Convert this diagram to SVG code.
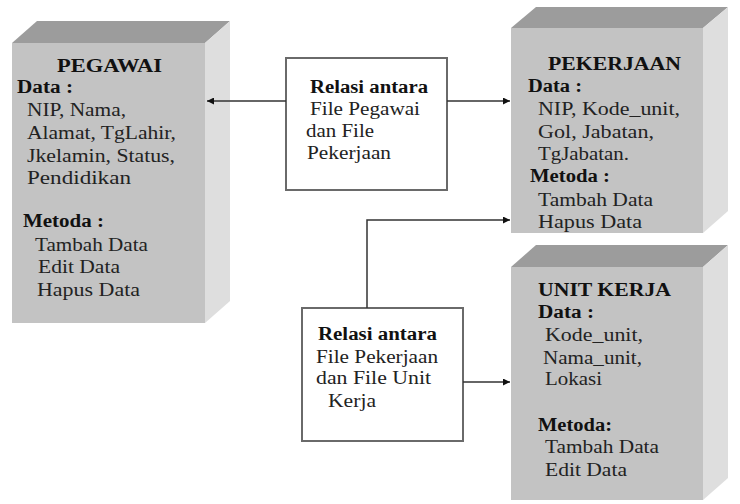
<svg xmlns="http://www.w3.org/2000/svg" width="740" height="504" viewBox="0 0 740 504">
<defs>
<style>
.t{font-size:18px;fill:#222}
.b{font-weight:bold;fill:#111}
.top{fill:#9c9c9c}
.front{fill:#c3c3c3}
.side{fill:#dedede}
.rel{fill:#fff;stroke:#6a6a6a;stroke-width:2}
.c{fill:none;stroke:#333;stroke-width:1.5}
</style>
<marker id="ah" viewBox="0 0 10 10" refX="10" refY="5" markerWidth="8" markerHeight="7" markerUnits="userSpaceOnUse" orient="auto">
<path d="M0,0 L10,5 L0,10 z" fill="#111"/>
</marker>
</defs>
<rect width="740" height="504" fill="#fff"/>
<g font-family="Liberation Serif, Times New Roman, serif">
<g id="pegawai">
<polygon class="top" points="12,43 37,21 230,21 205,43"/>
<polygon class="side" points="205,43 230,21 230,301 205,323"/>
<rect class="front" x="12" y="43" width="193" height="280"/>
<text class="t b" x="57" y="72" textLength="105" lengthAdjust="spacingAndGlyphs">PEGAWAI</text>
<text class="t b" x="17" y="93" textLength="56" lengthAdjust="spacingAndGlyphs">Data :</text>
<text class="t" x="27" y="116" textLength="99" lengthAdjust="spacingAndGlyphs">NIP, Nama,</text>
<text class="t" x="27" y="139" textLength="149" lengthAdjust="spacingAndGlyphs">Alamat, TgLahir,</text>
<text class="t" x="27" y="162" textLength="148" lengthAdjust="spacingAndGlyphs">Jkelamin, Status,</text>
<text class="t" x="27" y="184" textLength="104" lengthAdjust="spacingAndGlyphs">Pendidikan</text>
<text class="t b" x="23" y="227" textLength="81" lengthAdjust="spacingAndGlyphs">Metoda :</text>
<text class="t" x="35" y="251" textLength="113" lengthAdjust="spacingAndGlyphs">Tambah Data</text>
<text class="t" x="38" y="273" textLength="82" lengthAdjust="spacingAndGlyphs">Edit Data</text>
<text class="t" x="37" y="296" textLength="103" lengthAdjust="spacingAndGlyphs">Hapus Data</text>
</g>

<g id="pekerjaan">
<polygon class="top" points="511,28 536,7 728,7 703,28"/>
<polygon class="side" points="703,28 728,7 728,211 703,233"/>
<rect class="front" x="511" y="28" width="192" height="205"/>
<text class="t b" x="548" y="70" textLength="133" lengthAdjust="spacingAndGlyphs">PEKERJAAN</text>
<text class="t b" x="528" y="92" textLength="54" lengthAdjust="spacingAndGlyphs">Data :</text>
<text class="t" x="538" y="115" textLength="142" lengthAdjust="spacingAndGlyphs">NIP, Kode_unit,</text>
<text class="t" x="538" y="138" textLength="116" lengthAdjust="spacingAndGlyphs">Gol, Jabatan,</text>
<text class="t" x="538" y="160" textLength="91" lengthAdjust="spacingAndGlyphs">TgJabatan.</text>
<text class="t b" x="530" y="182" textLength="80" lengthAdjust="spacingAndGlyphs">Metoda :</text>
<text class="t" x="538" y="206" textLength="115" lengthAdjust="spacingAndGlyphs">Tambah Data</text>
<text class="t" x="538" y="228" textLength="104" lengthAdjust="spacingAndGlyphs">Hapus Data</text>
</g>

<g id="unitkerja">
<polygon class="top" points="511,267 536,245 728,245 703,267"/>
<polygon class="side" points="703,267 728,245 728,478 703,500"/>
<rect class="front" x="511" y="267" width="192" height="233"/>
<text class="t b" x="538" y="296" textLength="133" lengthAdjust="spacingAndGlyphs">UNIT KERJA</text>
<text class="t b" x="538" y="318" textLength="56" lengthAdjust="spacingAndGlyphs">Data :</text>
<text class="t" x="545" y="341" textLength="98" lengthAdjust="spacingAndGlyphs">Kode_unit,</text>
<text class="t" x="543" y="364" textLength="99" lengthAdjust="spacingAndGlyphs">Nama_unit,</text>
<text class="t" x="545" y="385" textLength="57" lengthAdjust="spacingAndGlyphs">Lokasi</text>
<text class="t b" x="538" y="431" textLength="74" lengthAdjust="spacingAndGlyphs">Metoda:</text>
<text class="t" x="545" y="453" textLength="114" lengthAdjust="spacingAndGlyphs">Tambah Data</text>
<text class="t" x="545" y="476" textLength="82" lengthAdjust="spacingAndGlyphs">Edit Data</text>
</g>

<g id="relasi1">
<rect class="rel" x="286" y="58" width="161" height="132"/>
<text class="t b" x="310" y="93" textLength="118" lengthAdjust="spacingAndGlyphs">Relasi antara</text>
<text class="t" x="310" y="115" textLength="110" lengthAdjust="spacingAndGlyphs">File Pegawai</text>
<text class="t" x="306" y="137" textLength="68" lengthAdjust="spacingAndGlyphs">dan File</text>
<text class="t" x="307" y="159" textLength="84" lengthAdjust="spacingAndGlyphs">Pekerjaan</text>
</g>

<g id="relasi2">
<rect class="rel" x="302" y="308" width="161" height="133"/>
<text class="t b" x="318" y="340" textLength="119" lengthAdjust="spacingAndGlyphs">Relasi antara</text>
<text class="t" x="316" y="363" textLength="122" lengthAdjust="spacingAndGlyphs">File Pekerjaan</text>
<text class="t" x="316" y="384" textLength="115" lengthAdjust="spacingAndGlyphs">dan File Unit</text>
<text class="t" x="328" y="407" textLength="48" lengthAdjust="spacingAndGlyphs">Kerja</text>
</g>
</g>
<g id="connectors">
<path class="c" d="M286,101 H207" marker-end="url(#ah)"/>
<path class="c" d="M447,101 H510" marker-end="url(#ah)"/>
<path class="c" d="M367,308 V220 H510" marker-end="url(#ah)"/>
<path class="c" d="M463,382 H510" marker-end="url(#ah)"/>
</g>
</svg>
